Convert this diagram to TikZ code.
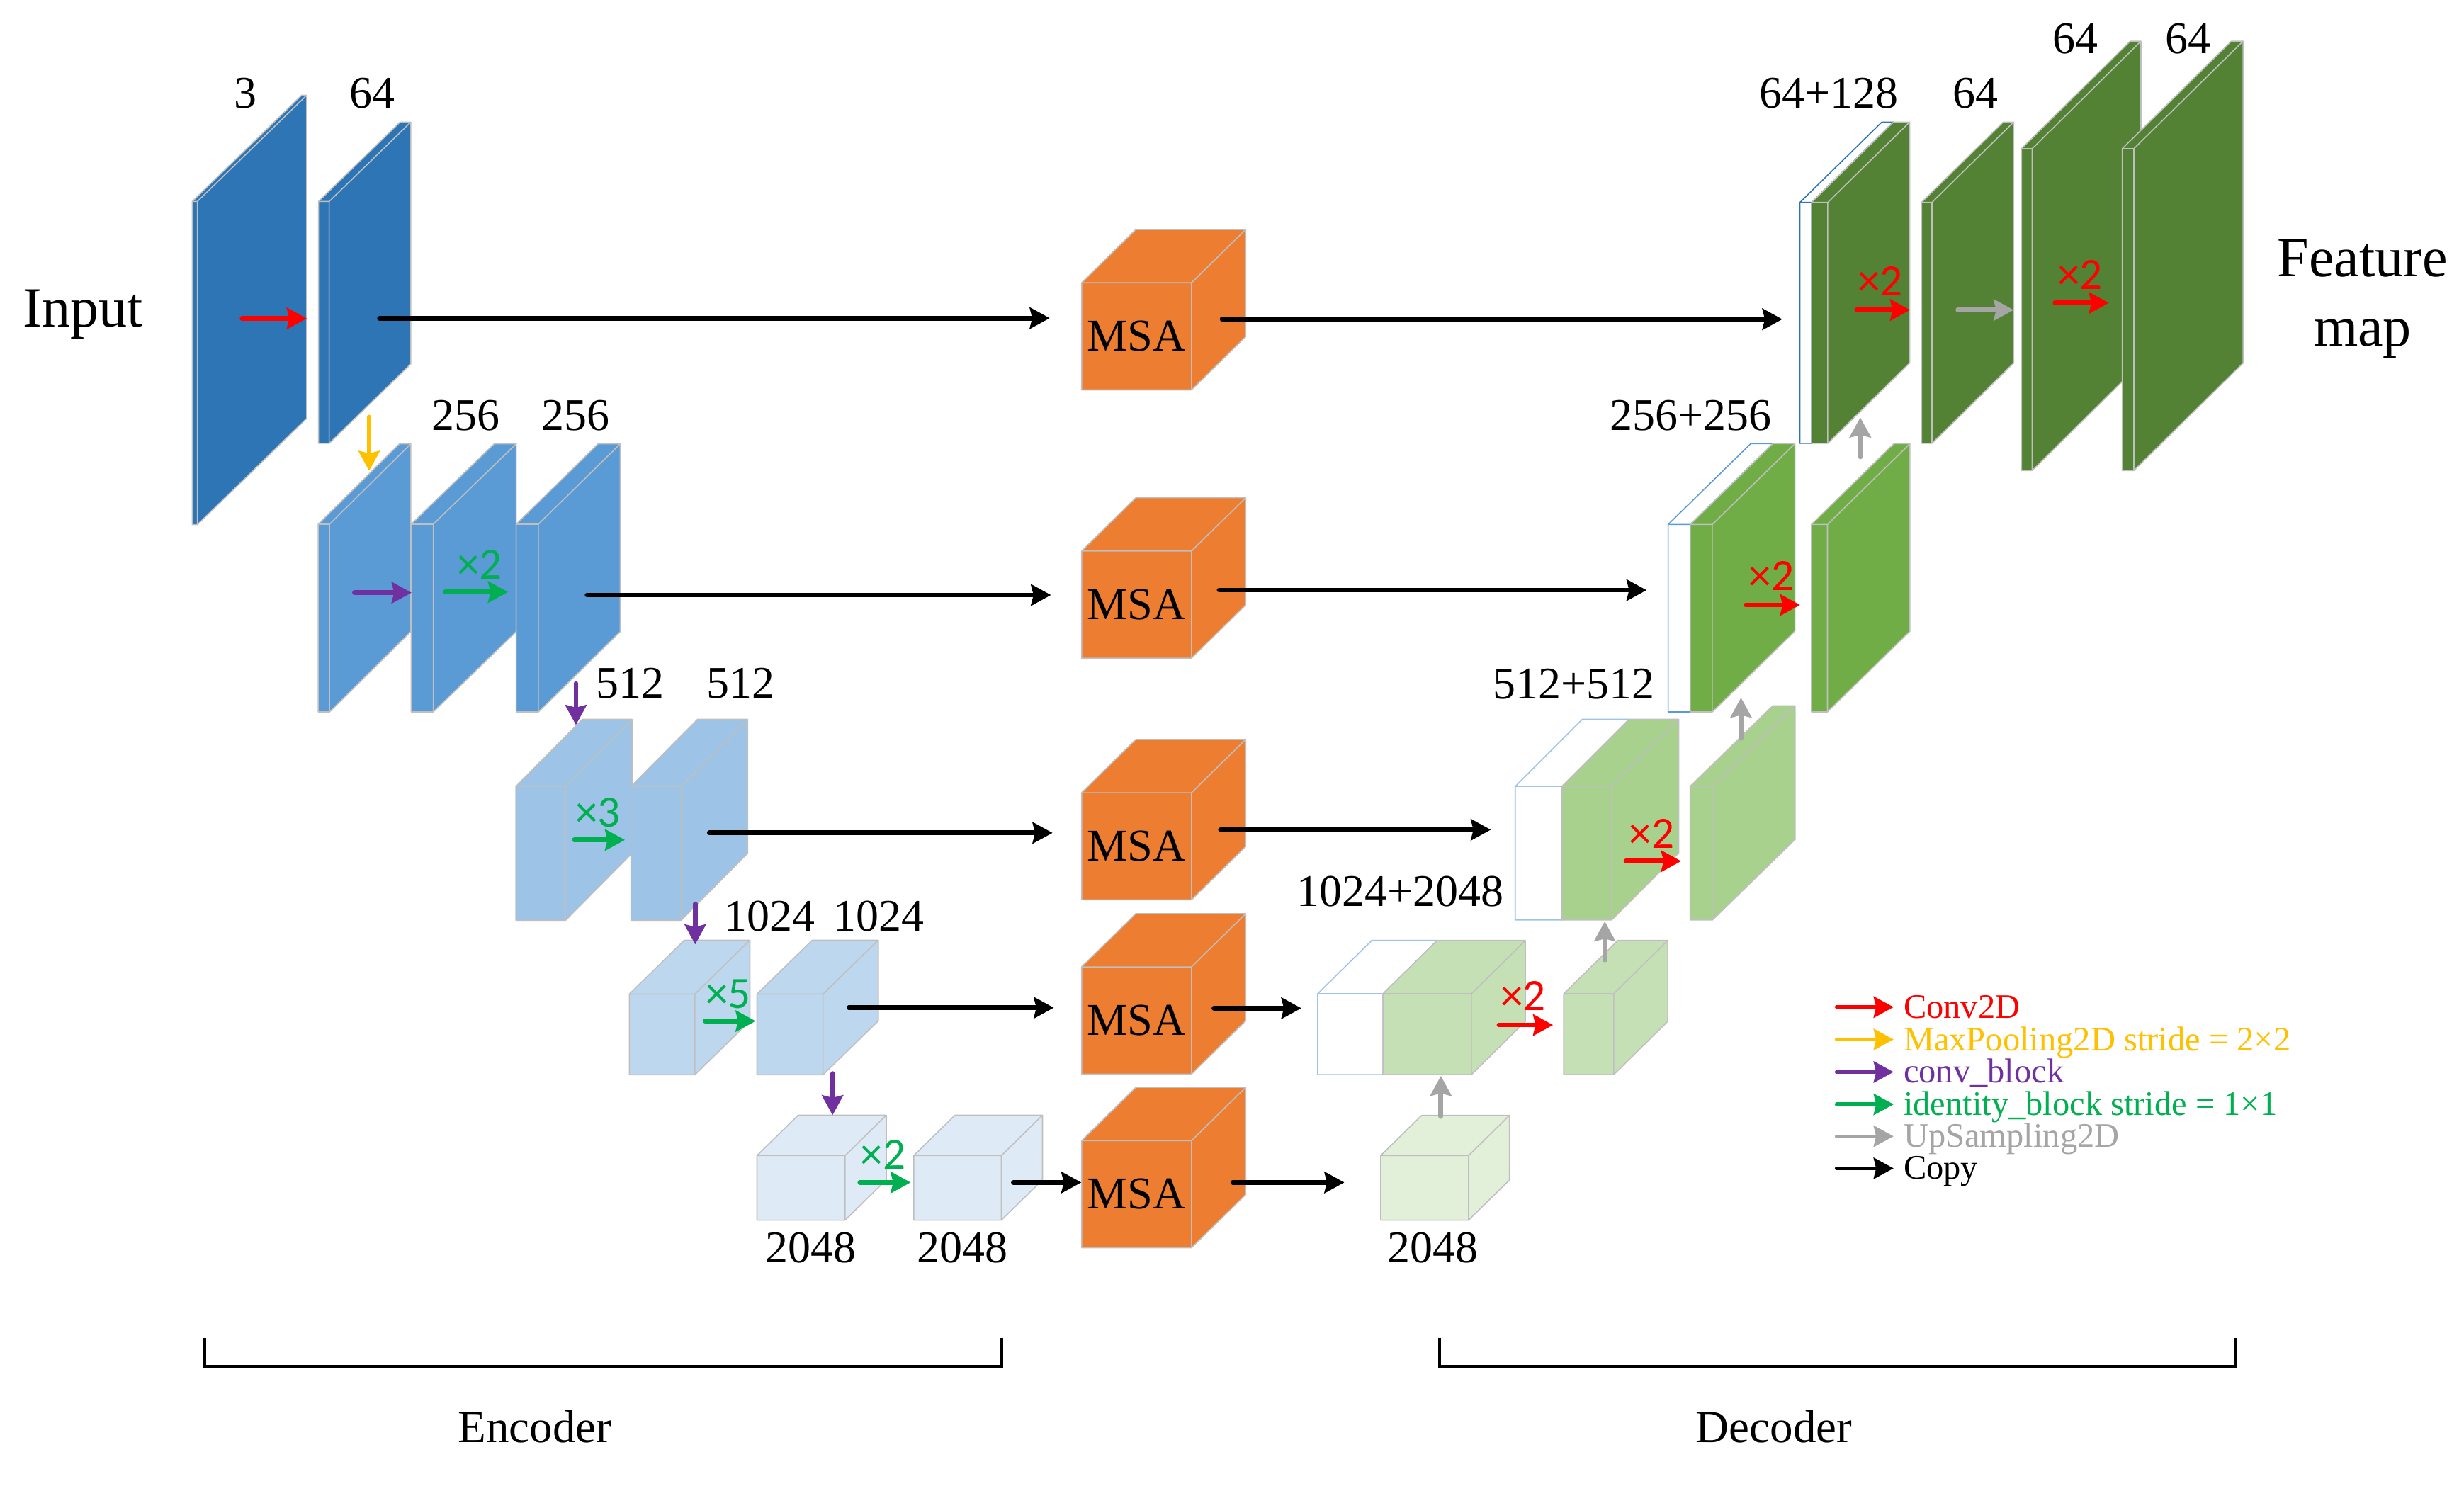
\documentclass[tikz,border=0pt]{standalone}
\usepackage{fontspec}
\setmainfont{Liberation Serif}
\newfontfamily\sansf{Carlito}
\usetikzlibrary{arrows.meta}
\definecolor{bA}{HTML}{2E75B6}
\definecolor{bB}{HTML}{5B9BD5}
\definecolor{bC}{HTML}{9DC3E6}
\definecolor{bD}{HTML}{BDD7EE}
\definecolor{bE}{HTML}{DEEBF7}
\definecolor{gA}{HTML}{548235}
\definecolor{gB}{HTML}{70AD47}
\definecolor{gC}{HTML}{A9D18E}
\definecolor{gD}{HTML}{C5E0B4}
\definecolor{gE}{HTML}{E2F0D9}
\definecolor{orA}{HTML}{ED7D31}
\definecolor{eg}{HTML}{BFBFBF}
\definecolor{cR}{HTML}{FF0000}
\definecolor{cY}{HTML}{FFC000}
\definecolor{cP}{HTML}{7030A0}
\definecolor{cG}{HTML}{00B050}
\definecolor{cGr}{HTML}{A5A5A5}
% x y w h dx dy fill edge
\newcommand\cuboidX[8]{%
  \filldraw[fill=#7, draw=#8, line width=0.45pt, line join=round]
    (#1,#2) -- (#1+#5,#2-#6) -- (#1+#3+#5,#2-#6) -- (#1+#3+#5,#2+#4-#6) -- (#1+#3,#2+#4) -- (#1,#2+#4) -- cycle;
  \draw[#8, line width=0.45pt, line join=round] (#1,#2) -- (#1+#3,#2) -- (#1+#3+#5,#2-#6) (#1+#3,#2) -- (#1+#3,#2+#4);
}
% name style x1 y1 x2 y2
\newcommand\myarrow[6]{%
  \coordinate (#1s) at (#3,#4);
  \coordinate (#1e) at (#5,#6);
  \draw[#2] (#1s) -- (#1e);
}
\tikzset{
  ar/.style={line width=1.9pt, line cap=round, -{Stealth[length=8pt,width=8.5pt,inset=1pt]}},
  cpy/.style={ar, color=black},
  cnv/.style={ar, color=cR},
  mpl/.style={ar, color=cY},
  cbk/.style={ar, color=cP},
  idb/.style={ar, color=cG},
  ups/.style={ar, color=cGr},
  lab/.style={inner sep=0pt, font=\fontsize{18.2}{22}\selectfont},
  bigt/.style={inner sep=0pt, anchor=base, font=\fontsize{22.8}{27}\selectfont},
  rep/.style={inner sep=0pt, font=\sansf\fontsize{18}{22}\selectfont},
  leg/.style={inner sep=0pt, anchor=base west, font=\fontsize{13.8}{16}\selectfont},
  msat/.style={inner sep=0pt, font=\fontsize{18.3}{22}\selectfont},
  legar/.style={line width=1.5pt},
}
\begin{document}
\begin{tikzpicture}[x=0.022181cm,y=-0.022181cm]
\useasboundingbox (0,0) rectangle (1568,952);

% ---------------- Encoder blocks ----------------
\cuboidX{122.4}{128.2}{3.2}{205.7}{69.6}{67.6}{bA}{eg}
\cuboidX{202.7}{128.2}{6.8}{154}{51.9}{50.5}{bA}{eg}
\cuboidX{202.5}{333.6}{7.2}{119.5}{51.7}{51.1}{bB}{eg}
\cuboidX{261.7}{333.6}{14}{119.5}{52.8}{51.1}{bB}{eg}
\cuboidX{328.5}{333.6}{14.1}{119.5}{52.1}{51.1}{bB}{eg}
\cuboidX{328.3}{500.5}{31.6}{85.3}{42.3}{42.7}{bC}{eg}
\cuboidX{401.5}{500.5}{31.9}{85.3}{42.4}{42.7}{bC}{eg}
\cuboidX{400.5}{632.7}{41.7}{51.4}{35}{34.3}{bD}{eg}
\cuboidX{481.7}{632.7}{42}{51.4}{35.2}{34.3}{bD}{eg}
\cuboidX{481.7}{735.5}{56.1}{41.1}{26.2}{25.7}{bE}{eg}
\cuboidX{581.5}{735.5}{55.7}{41.1}{26.2}{25.7}{bE}{eg}

% ---------------- MSA blocks ----------------
\cuboidX{688.3}{180}{69.9}{68.2}{34.5}{33.9}{orA}{eg}
\cuboidX{688.3}{350.7}{69.9}{68.2}{34.5}{33.9}{orA}{eg}
\cuboidX{688.3}{504.5}{69.9}{68.2}{34.5}{33.9}{orA}{eg}
\cuboidX{688.3}{615.4}{69.9}{68.2}{34.5}{33.9}{orA}{eg}
\cuboidX{688.3}{726}{69.9}{68.2}{34.5}{33.9}{orA}{eg}
\node[msat] (msa1) at (723.2,214.1) {MSA};
\node[msat] (msa2) at (723.2,384.8) {MSA};
\node[msat] (msa3) at (723.2,538.6) {MSA};
\node[msat] (msa4) at (723.2,649.5) {MSA};
\node[msat] (msa5) at (723.2,760.1) {MSA};

% ---------------- Decoder blocks ----------------
\cuboidX{878.6}{735.5}{55.9}{41.1}{26.1}{25.6}{gE}{eg}
\cuboidX{838.5}{632.5}{41.6}{51.5}{34.4}{33.9}{white}{bC}
\cuboidX{880.1}{632.5}{56.2}{51.5}{34.4}{33.9}{gD}{eg}
\cuboidX{995.1}{632.5}{31.8}{51.5}{34.4}{33.9}{gD}{eg}
\cuboidX{964.2}{500.5}{29.8}{85.1}{42.7}{42.7}{white}{bC}
\cuboidX{994}{500.5}{31.6}{85.1}{42.7}{42.7}{gC}{eg}
\cuboidX{1075.5}{500.5}{14.2}{85.1}{52.6}{51.3}{gC}{eg}
\cuboidX{1061.5}{333.8}{14.1}{119.3}{52.6}{51.4}{white}{bB}
\cuboidX{1075.6}{333.8}{14}{119.3}{52.6}{51.4}{gB}{eg}
\cuboidX{1152.7}{333.8}{10.2}{119.3}{52.5}{51.4}{gB}{eg}
\cuboidX{1145.4}{128.8}{7.4}{153.4}{52.1}{51.1}{white}{bA}
\cuboidX{1152.8}{128.8}{10.3}{153.4}{52.1}{51.1}{gA}{eg}
\cuboidX{1222.8}{128.8}{6.6}{153.4}{52}{51.1}{gA}{eg}
\cuboidX{1286.4}{94.6}{6.8}{204.9}{69.2}{68.4}{gA}{eg}
\cuboidX{1350.5}{94.6}{7.4}{204.9}{69.5}{68.4}{gA}{eg}

% ---------------- Copy arrows ----------------
\myarrow{c1a}{cpy}{241.5}{202.5}{668}{202.5}
\myarrow{c1b}{cpy}{777.7}{203.2}{1134.2}{203.2}
\myarrow{c2a}{cpy}{373.6}{378.7}{668.8}{378.7}
\myarrow{c2b}{cpy}{775.8}{375.6}{1047.8}{375.6}
\myarrow{c3a}{cpy}{451.4}{530.1}{669.8}{530.1}
\myarrow{c3b}{cpy}{776.7}{528.1}{948.7}{528.1}
\myarrow{c4a}{cpy}{540.2}{641.4}{670.6}{641.4}
\myarrow{c4b}{cpy}{772.5}{641.7}{828.1}{641.7}
\myarrow{c5a}{cpy}{644.9}{752.6}{688.1}{752.6}
\myarrow{c5b}{cpy}{784.5}{752.6}{855.5}{752.6}

% ---------------- Encoder operation arrows ----------------
\myarrow{r0}{cnv}{154}{202.7}{195.2}{202.7}
\myarrow{y0}{mpl}{234.9}{265.5}{234.9}{299.7}
\myarrow{p1}{cbk}{225.6}{377.2}{261.9}{377.2}
\myarrow{g1}{idb}{283.4}{376.8}{323.3}{376.8}
\myarrow{p2}{cbk}{366.5}{435}{366.5}{461.4}
\myarrow{g2}{idb}{365.5}{534.6}{397.7}{534.6}
\myarrow{p3}{cbk}{442.4}{575.3}{442.4}{601.1}
\myarrow{g3}{idb}{448.7}{649.9}{480.8}{649.9}
\myarrow{p4}{cbk}{529.8}{683.3}{529.8}{709.8}
\myarrow{g4}{idb}{547.2}{752.6}{579.5}{752.6}
\node[rep, text=cG] (x2a) at (305.2,359.2) {×2};
\node[rep, text=cG] (x3a) at (380.4,517) {×3};
\node[rep, text=cG] (x5a) at (463.5,632.7) {×5};
\node[rep, text=cG] (x2b) at (562,734.7) {×2};

% ---------------- Decoder operation arrows ----------------
\myarrow{u5}{ups}{916.9}{710.6}{916.9}{684.8}
\myarrow{d4}{cnv}{953.9}{652.4}{988.3}{652.4}
\myarrow{u4}{ups}{1021.2}{611}{1021.2}{586.4}
\myarrow{d3}{cnv}{1034.6}{548.1}{1069.8}{548.1}
\myarrow{u3}{ups}{1107.9}{469.9}{1107.9}{444}
\myarrow{d2}{cnv}{1111}{385}{1145.5}{385}
\myarrow{u2}{ups}{1183.8}{290.8}{1183.8}{265.7}
\myarrow{d1}{cnv}{1181.5}{197.3}{1215.5}{197.3}
\myarrow{u1}{ups}{1245.9}{197.3}{1281.4}{197.3}
\myarrow{d0}{cnv}{1307.7}{192.8}{1342}{192.8}
\node[rep, text=cR] (x2c) at (969.4,634) {×2};
\node[rep, text=cR] (x2d) at (1051.2,530.5) {×2};
\node[rep, text=cR] (x2e) at (1127.2,366.7) {×2};
\node[rep, text=cR] (x2f) at (1196.5,179.1) {×2};
\node[rep, text=cR] (x2g) at (1323.6,175.1) {×2};

% ---------------- Channel labels ----------------
\node[lab] (l3) at (156.4,59.2) {3};
\node[lab] (l64) at (236.9,59.2) {64};
\node[lab] (l256a) at (296.5,264.5) {256};
\node[lab] (l256b) at (366.5,264.5) {256};
\node[lab] (l512a) at (401.1,435) {512};
\node[lab] (l512b) at (471.2,435) {512};
\node[lab] (l1024a) at (489.7,583.1) {1024};
\node[lab] (l1024b) at (559.2,583.1) {1024};
\node[lab] (l2048a) at (516.1,794) {2048};
\node[lab] (l2048b) at (612.5,794) {2048};
\node[lab] (l2048c) at (912,794) {2048};
\node[lab] (lc4) at (891,567.5) {1024+2048};
\node[lab] (lc3) at (1001.5,435.5) {512+512};
\node[lab] (lc2) at (1076,264.5) {256+256};
\node[lab] (lc1) at (1163.7,59.4) {64+128};
\node[lab] (ld64a) at (1257.1,59.4) {64};
\node[lab] (ld64b) at (1320.6,24.6) {64};
\node[lab] (ld64c) at (1392.5,24.6) {64};

% ---------------- Input / Feature map ----------------
\node[bigt, anchor=base west] (inp) at (14.3,208.2) {Input};
\node[bigt] (feat1) at (1503.5,176) {Feature};
\node[bigt] (feat2) at (1503.5,220.4) {map};

% ---------------- Brackets ----------------
\coordinate (eb1) at (130,851.4);
\coordinate (eb2) at (130,869.7);
\coordinate (eb3) at (637.2,869.7);
\coordinate (eb4) at (637.2,851.4);
\draw[line width=1.3pt] (eb1) -- (eb2) -- (eb3) -- (eb4);
\coordinate (db1) at (916.1,851.4);
\coordinate (db2) at (916.1,869.7);
\coordinate (db3) at (1422.9,869.7);
\coordinate (db4) at (1422.9,851.4);
\draw[line width=1.3pt] (db1) -- (db2) -- (db3) -- (db4);
\node[inner sep=0pt, anchor=base, font=\fontsize{18.5}{22}\selectfont] (enc) at (340.4,918.2) {Encoder};
\node[inner sep=0pt, anchor=base, font=\fontsize{18.5}{22}\selectfont] (dec) at (1128.9,918.2) {Decoder};

% ---------------- Legend ----------------
\myarrow{lg1}{cnv, legar}{1168.8}{641}{1205}{641}
\myarrow{lg2}{mpl, legar}{1168.8}{661.6}{1205}{661.6}
\myarrow{lg3}{cbk, legar}{1168.8}{682.3}{1205}{682.3}
\myarrow{lg4}{idb, legar}{1168.8}{702.9}{1205}{702.9}
\myarrow{lg5}{ups, legar}{1168.8}{723.2}{1205}{723.2}
\myarrow{lg6}{cpy, legar}{1168.8}{743.6}{1205}{743.6}
\node[leg, text=cR] (lt1) at (1211.1,648) {Conv2D};
\node[leg, text=cY] (lt2) at (1211.1,668.6) {MaxPooling2D stride = 2×2};
\node[leg, text=cP] (lt3) at (1211.1,689.3) {conv\_block};
\node[leg, text=cG] (lt4) at (1211.1,709.9) {identity\_block stride = 1×1};
\node[leg, text=cGr] (lt5) at (1211.1,730.2) {UpSampling2D};
\node[leg, text=black] (lt6) at (1211.1,750.6) {Copy};
\end{tikzpicture}
\end{document}
